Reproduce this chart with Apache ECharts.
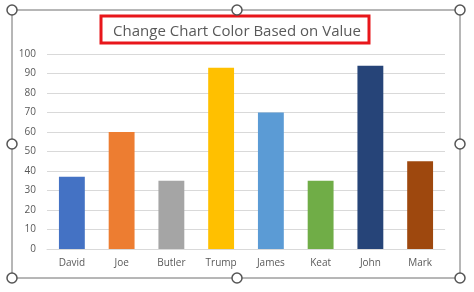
<!DOCTYPE html>
<html>
<head>
<meta charset="utf-8">
<script src="https://cdn.jsdelivr.net/npm/echarts@6/dist/echarts.min.js"></script>
<style>
  html, body { margin: 0; padding: 0; background: #fff; }
</style>
</head>
<body>
<div id="chart" style="width: 474px;height: 292px;"></div>
<script>
  // 数据
  const names = ['David', 'Joe', 'Butler', 'Trump', 'James', 'Keat', 'John', 'Mark']
  const values = [37, 60, 35, 93, 70, 35, 94, 45]
  const barColors = ['#4472C4', '#ED7D31', '#A5A5A5', '#FFC000', '#5B9BD5', '#70AD47', '#264478', '#9E480E']
  const yTicks = { min: 0, max: 100, step: 10 }

  let myChart = echarts.init(document.getElementById('chart'))

  // 选中框的小圆圈
  const handles = [[12, 10], [237, 10], [460, 10], [12, 144], [460, 144], [12, 278], [237, 278], [460, 278]]

  myChart.setOption({
    animation: false,
    title: {
      text: 'Change Chart Color Based on Value',
      left: 'center',
      top: 19,
      textStyle: { fontFamily: 'Open Sans', fontWeight: 'normal', fontSize: 15, color: '#595959' }
    },
    grid: { left: 47, right: 29, top: 54, bottom: 43 },
    xAxis: {
      type: 'category',
      data: names,
      axisTick: { show: false },
      axisLine: { lineStyle: { color: '#d9d9d9' } },
      axisLabel: { color: '#595959', fontSize: 10, fontFamily: 'Open Sans', margin: 9 }
    },
    yAxis: {
      type: 'value',
      min: yTicks.min,
      max: yTicks.max,
      interval: yTicks.step,
      axisLine: { show: false },
      axisTick: { show: false },
      axisLabel: { color: '#595959', fontSize: 10, fontFamily: 'Open Sans', margin: 11 },
      splitLine: { lineStyle: { color: '#d9d9d9' } }  // 横向网格线
    },
    series: [{
      type: 'bar',
      barWidth: '52%',
      data: values.map((v, i) => ({ value: v, itemStyle: { color: barColors[i] } }))
    }],
    graphic: [
      { type: 'rect', shape: { x: 12, y: 10, width: 448, height: 268 }, style: { fill: 'none', stroke: '#6f6f6f', lineWidth: 1 }, z: -1 },
      { type: 'rect', shape: { x: 101, y: 16, width: 268, height: 27 }, style: { fill: 'none', stroke: '#e8161b', lineWidth: 3 } }
    ].concat(handles.map(p => ({
      type: 'circle',
      shape: { cx: p[0], cy: p[1], r: 5 },
      style: { fill: '#fff', stroke: '#555', lineWidth: 1.5 }
    })))
  })
</script>
</body>
</html>
